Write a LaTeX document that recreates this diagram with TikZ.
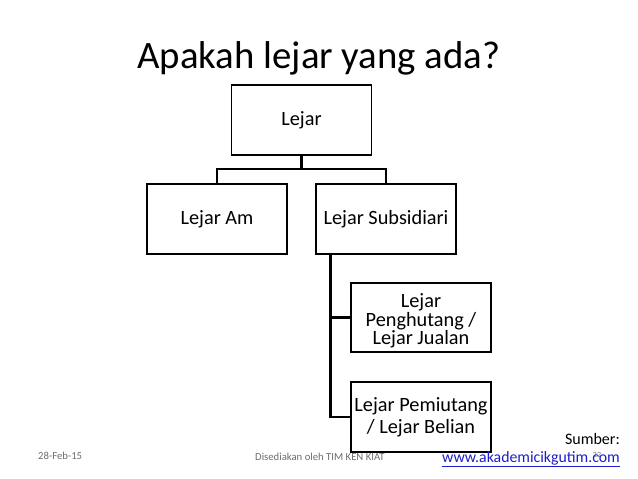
\documentclass[tikz,border=0pt]{standalone}
\usepackage{fontspec}
\setmainfont{Carlito}
\begin{document}
\begin{tikzpicture}[x=1pt,y=-1pt,
  box/.style={draw=black,line width=1.8pt,fill=white,inner sep=0pt,align=center,font=\fontsize{20.3}{21.6}\selectfont},
  conn/.style={draw=black,line width=2.2pt},
  foot/.style={font=\fontsize{10.7}{12}\selectfont,text=gray!85!black,inner sep=0pt}]
\useasboundingbox (0,0) rectangle (638,479);
\node[inner sep=0pt,anchor=base,font=\fontsize{38.8}{44}\selectfont] (title) at (319,68) {Apakah lejar yang ada?};
\coordinate (j) at (301.5,169);
\coordinate (s) at (330.5,254);
\node[box,minimum width=140pt,minimum height=70pt] (lejar) at (301.5,120) {Lejar};
\node[box,minimum width=140pt,minimum height=70pt] (am) at (217,219) {Lejar Am};
\node[box,minimum width=140pt,minimum height=70pt] (sub) at (386,219) {Lejar Subsidiari};
\node[box,minimum width=140pt,minimum height=69pt] (hut) at (421,317.5) {};
\node[inner sep=0pt,align=center,font=\fontsize{20.3}{17.5}\selectfont] (huttext) at (421,321) {Lejar\\Penghutang /\\Lejar Jualan};
\node[box,minimum width=140pt,minimum height=70pt] (piu) at (421,417) {Lejar Pemiutang\\/ Lejar Belian};
\draw[conn] (lejar.south) -- (j) -| (am.north);
\draw[conn] (j) -| (sub.north);
\draw[conn] (s) |- (hut.west);
\draw[conn] (s) |- (piu.west);
\node[foot,anchor=west] (date) at (38,456) {28-Feb-15};
\node[foot,anchor=west] (by) at (255,457) {Disediakan oleh TIM KEN KIAT};
\node[foot,anchor=center,font=\fontsize{8}{9}\selectfont] (pg) at (597,455) {22};
\node[inner sep=0pt,anchor=east,font=\fontsize{16}{18}\selectfont] (src) at (620,439) {Sumber:};
\node[inner sep=0pt,anchor=east,font=\fontsize{15.8}{18}\selectfont,text={rgb,255:red,30;green,30;blue,200}] (url) at (620,459) {\underline{www.akademicikgutim.com}};
\end{tikzpicture}
\end{document}
